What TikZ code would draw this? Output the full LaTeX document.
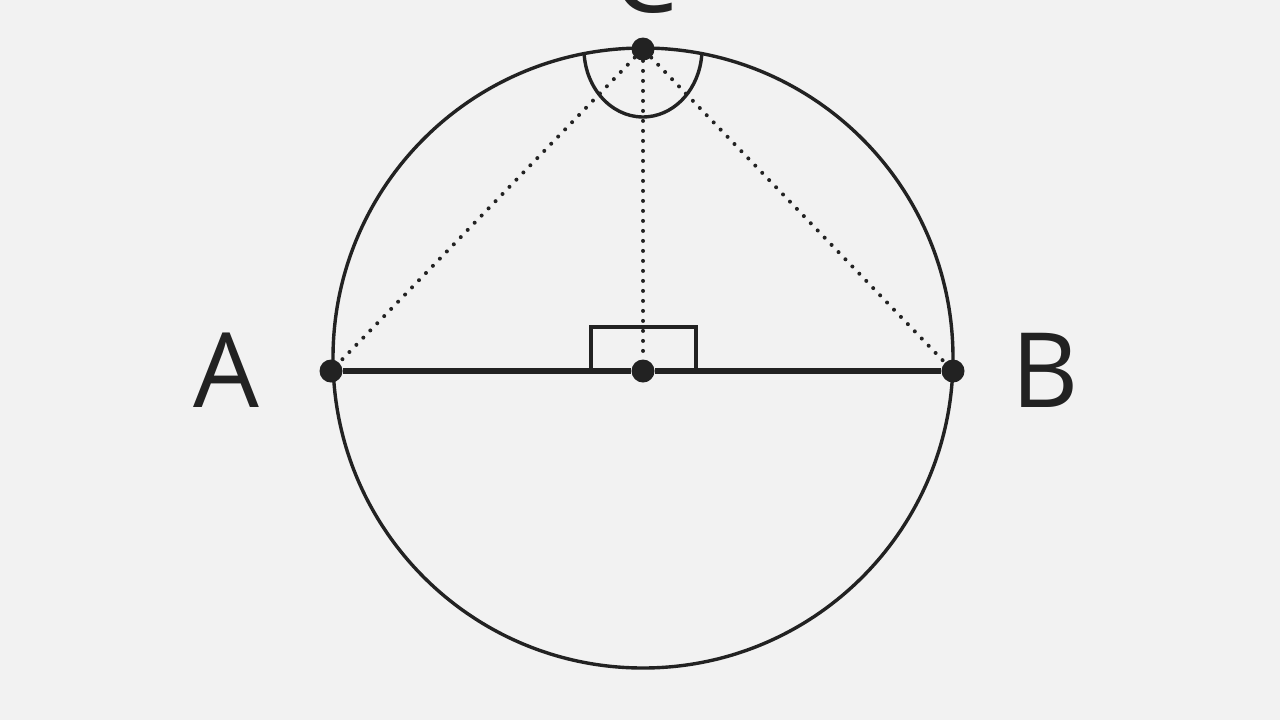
\documentclass[tikz,border=0pt]{standalone}
\usepackage{fontspec}
\setmainfont{Open Sans}
\definecolor{bg}{HTML}{F2F2F2}
\definecolor{ink}{HTML}{222222}
\begin{document}
\begin{tikzpicture}[x=0.5pt, y=-0.5pt]
\useasboundingbox[fill=bg] (0,0) rectangle (1280,720);
\draw[ink, line width=1.7pt] (643,358) circle [radius=155pt];
\node[shape=circle, fill=ink, inner sep=0pt, minimum size=11.5pt] (A) at (331,371) {};
\node[shape=circle, fill=ink, inner sep=0pt, minimum size=11.5pt] (B) at (953,371) {};
\node[shape=circle, fill=ink, inner sep=0pt, minimum size=11.5pt] (O) at (643,371) {};
\node[shape=circle, fill=ink, inner sep=0pt, minimum size=11.5pt] (C) at (643,49) {};
\node[text=ink, font=\fontsize{52}{52}\selectfont] (labA) at (226,370) {A};
\node[text=ink, font=\fontsize{52}{52}\selectfont] (labB) at (1045,370) {B};
\node[text=ink, font=\fontsize{52}{52}\selectfont] (labC) at (645,-25) {C};
\path [-, line width=2.6pt, draw=ink] (A) edge (O);
\path [-, line width=2.6pt, draw=ink] (O) edge (B);
\path [-, line width=2pt, draw=ink, line cap=round, dash pattern=on 0pt off 5pt] (C) edge (A);
\path [-, line width=2pt, draw=ink, line cap=round, dash pattern=on 0pt off 5pt] (C) edge (B);
\path [-, line width=2pt, draw=ink, line cap=round, dash pattern=on 0pt off 5pt] (C) edge (O);
\draw[ink, line width=1.7pt] (591,371) -- (591,327) -- (696,327) -- (696,371);
\draw[ink, line width=1.7pt] ([shift={(-58.8,5.9)}]C.center) arc[start angle=175, end angle=5, x radius=59, y radius=68];
\end{tikzpicture}
\end{document}
